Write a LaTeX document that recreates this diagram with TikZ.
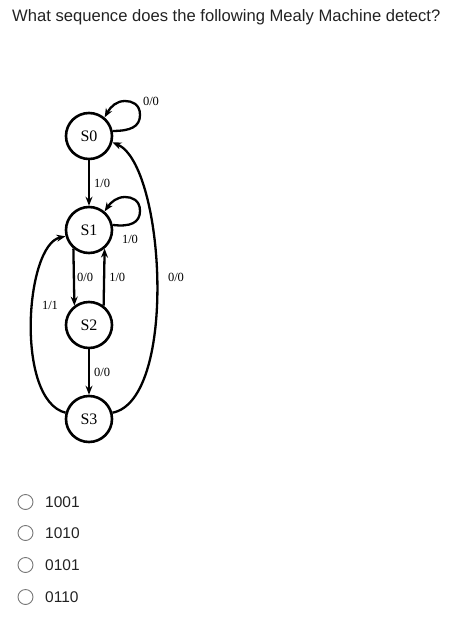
\documentclass[tikz,border=0pt]{standalone}
\usepackage{fontspec}
\setmainfont{Liberation Serif}
\newfontfamily\qfont{Liberation Sans}
\usetikzlibrary{arrows.meta}
\definecolor{qtext}{HTML}{222222}
\definecolor{radio}{HTML}{767676}
\tikzset{
  st/.style={circle, draw, line width=2.6pt, minimum size=46pt, inner sep=0pt, font=\fontsize{16}{16}\selectfont},
  arr/.style={line width=2.3pt, -{Stealth[length=9pt,width=7pt]}},
  lbl/.style={font=\fontsize{12.5}{12.5}\selectfont, inner sep=0pt},
  rad/.style={circle, draw=radio, line width=0.9pt, minimum size=15pt, inner sep=0pt},
  opt/.style={font=\qfont\fontsize{15.5}{15.5}\selectfont, text=qtext, anchor=base west, inner sep=0pt},
}
\begin{document}
\begin{tikzpicture}[x=1pt,y=-1pt]
\useasboundingbox (0,0) rectangle (452,624);
\node[opt, font=\qfont\fontsize{16.6}{16.6}\selectfont] (q) at (12,21) {What sequence does the following Mealy Machine detect?};

\node[st] (S0) at (89,136) {S0};
\node[st] (S1) at (89,230) {S1};
\node[st] (S2) at (89,325) {S2};
\node[st] (S3) at (89,419) {S3};

\draw[arr] (S0.12) .. controls (130,131) and (140,127) .. (140,115)
  .. controls (140,104) and (132,101) .. (125,101)
  .. controls (117,101) and (111,106) .. (S0.50);
\node[lbl] (l00a) at (151,101) {0/0};
\draw[arr] (S0) -- node[lbl, right=4pt] (l10a) {1/0} (S1);
\draw[arr] (S1.12) .. controls (130,227) and (140,223) .. (140,211)
  .. controls (140,200) and (132,197) .. (125,197)
  .. controls (117,197) and (111,202) .. (S1.50);
\node[lbl] (l10b) at (130,239) {1/0};
\draw[arr] (S1.230) -- node[lbl, right=2pt] (l00b) {0/0} (S2.127);
\draw[arr] (S2.53) -- node[lbl, right=4pt] (l10c) {1/0} (S1.310);
\draw[arr] (S2) -- node[lbl, right=4pt] (l00c) {0/0} (S3);
\draw[arr] (S3.165) .. controls (15,400) and (25,245) .. (S1.195);
\node[lbl] (l11) at (50,305) {1/1};
\draw[arr] (S3.15) .. controls (178,400) and (165,165) .. (S0.345);
\node[lbl] (l00d) at (176,277) {0/0};

\node[rad] (r1) at (25.5,502) {};
\node[rad] (r2) at (25.5,533) {};
\node[rad] (r3) at (25.5,565) {};
\node[rad] (r4) at (25.5,597) {};
\node[opt] (o1) at (45,507.5) {1001};
\node[opt] (o2) at (45,538.5) {1010};
\node[opt] (o3) at (45,570.5) {0101};
\node[opt] (o4) at (45,602.5) {0110};
\end{tikzpicture}
\end{document}
